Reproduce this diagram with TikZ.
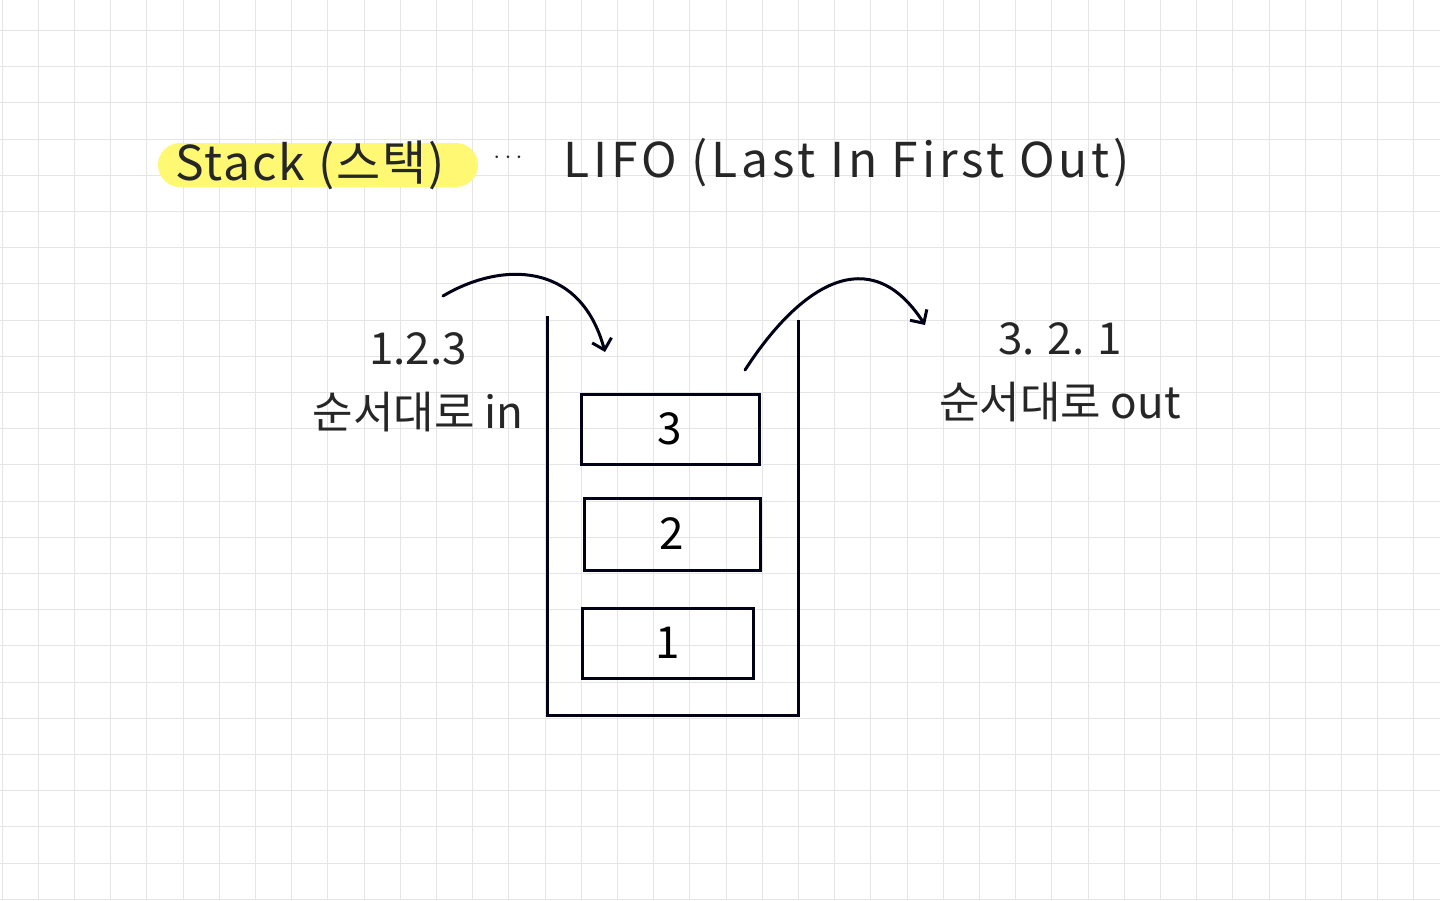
\documentclass[tikz,border=0pt]{standalone}
\usepackage{fontspec}
\setmainfont{Noto Sans CJK KR}
\usetikzlibrary{arrows.meta}
\begin{document}
\begin{tikzpicture}[x=1pt,y=-1pt,
  ink/.style={draw=black!85!blue!60!black,line width=3pt},
  box/.style={ink,minimum width=178pt,minimum height=70pt,font=\fontsize{44}{44}\selectfont},
  lbl/.style={font=\fontsize{44}{64}\selectfont,text=black!85,align=center},
  arr/.style={ink,line cap=round,-{Straight Barb[length=10pt,width=20pt]}}]
\useasboundingbox (0,0) rectangle (1440,900);
\fill[white] (0,0) rectangle (1440,900);
\foreach \i in {0,...,40} \draw[gray!20,line width=1pt] (2+36.2*\i,0) -- (2+36.2*\i,900);
\foreach \i in {-1,...,25} \draw[gray!20,line width=1pt] (0,30.5+36.2*\i) -- (1440,30.5+36.2*\i);
\fill[yellow!55,rounded corners=22pt] (158,143) rectangle (478,187);
\node[lbl,anchor=west,font=\fontsize{48}{48}\selectfont\addfontfeature{LetterSpace=4}] (t1) at (172,165) {Stack (스택)};
\node[lbl,font=\fontsize{56}{56}\selectfont] (dots) at (508,158) {$\cdots$};
\node[lbl,anchor=west,font=\fontsize{48}{48}\selectfont\addfontfeature{LetterSpace=8}] (t2) at (560,163) {LIFO (Last In First Out)};
\draw[ink] (547,316) -- (547,715) -- (798,715) -- (798,320);
\node[box] (b3) at (670,429) {3};
\node[box,minimum width=176pt,minimum height=72pt] (b2) at (672,534) {2};
\node[box,minimum width=171pt] (b1) at (668,643) {1};
\node[lbl] (inl) at (418,382) {1.2.3\\순서대로 in};
\node[lbl] (outl) at (1060,372) {3. 2. 1\\순서대로 out};
\coordinate (a1) at (443,296); \coordinate (a2) at (605,352);
\coordinate (c1) at (745,370); \coordinate (c2) at (925,325);
\draw[arr] (a1) .. controls (500,262) and (580,260) .. (a2);
\draw[arr] (c1) .. controls (800,285) and (870,240) .. (c2);
\end{tikzpicture}
\end{document}
